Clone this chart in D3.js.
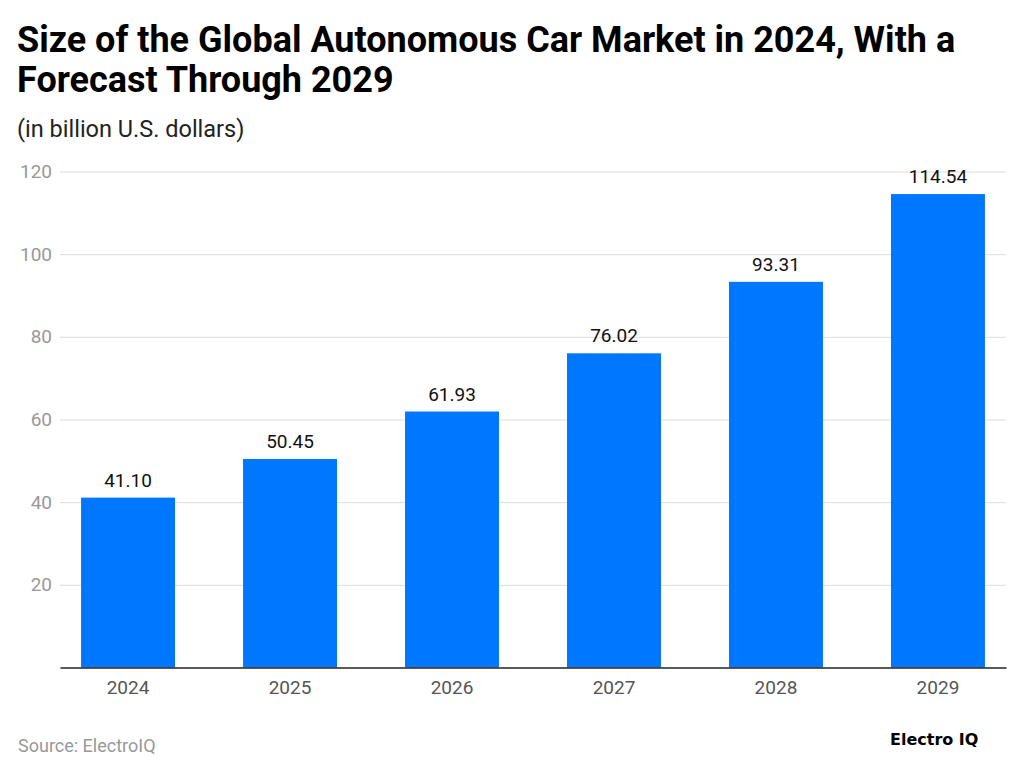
<!DOCTYPE html>
<html><head><meta charset="utf-8">
<script src="https://cdn.jsdelivr.net/npm/d3@7"></script>
<style>body{margin:0;background:#fff}svg{display:block;font-family:Roboto,sans-serif}</style>
</head><body><svg id="c" width="1024" height="775"></svg>
<script>
const categories = ["2024","2025","2026","2027","2028","2029"];
const values = [41.10, 50.45, 61.93, 76.02, 93.31, 114.54];
const yTicks = [20, 40, 60, 80, 100, 120];

(function(){
const svg = d3.select("#c");
const mLeft = 60, mRight = 1006, mTop = 171.5, mBottom = 667.5;

svg.append("text").attr("x",17).attr("y",52).attr("font-size",36).attr("font-weight",700).attr("fill","#000")
  .text("Size of the Global Autonomous Car Market in 2024, With a");
svg.append("text").attr("x",17).attr("y",92).attr("font-size",36).attr("font-weight",700).attr("fill","#000")
  .text("Forecast Through 2029");
svg.append("text").attr("x",17).attr("y",137).attr("font-size",23.5).attr("fill","#222")
  .text("(in billion U.S. dollars)");

const x = d3.scaleBand().domain(categories).range([mLeft,mRight]).paddingInner(0.42).paddingOuter(0.13);
const y = d3.scaleLinear().domain([0,120]).range([mBottom,mTop]);

const gy = svg.append("g").attr("transform",`translate(${mLeft},0)`)
  .call(d3.axisLeft(y).tickValues(yTicks).tickSize(-(mRight-mLeft)).tickPadding(8).tickFormat(d3.format("d")));
gy.select(".domain").remove();
gy.selectAll(".tick line").attr("stroke","#dcdcdc").attr("stroke-width",1);
gy.selectAll(".tick text").attr("fill","#999").attr("font-size",19).attr("font-family","Roboto");

svg.append("g").selectAll("rect").data(values).join("rect")
  .attr("x",(d,i)=>x(categories[i])).attr("width",x.bandwidth())
  .attr("y",d=>y(d)).attr("height",d=>y(0)-y(d)).attr("fill","#0077ff");

svg.append("g").selectAll("text").data(values).join("text")
  .attr("x",(d,i)=>x(categories[i])+x.bandwidth()/2).attr("y",d=>y(d)-11)
  .attr("text-anchor","middle").attr("font-size",19).attr("fill","#111")
  .text(d=>d.toFixed(2));

const gx = svg.append("g").attr("transform",`translate(0,${mBottom})`)
  .call(d3.axisBottom(x).tickSize(0).tickPadding(13));
gx.select(".domain").attr("stroke","#222").attr("stroke-width",1.5);
gx.selectAll(".tick text").attr("fill","#555").attr("font-size",19).attr("font-family","Roboto");

svg.append("text").attr("x",18).attr("y",752).attr("font-size",18).attr("fill","#999").text("Source: ElectroIQ");
svg.append("text").attr("x",890).attr("y",745).attr("font-size",16).attr("font-weight",700).attr("fill","#000")
  .attr("font-family","'DejaVu Sans',sans-serif").text("Electro IQ");
})();
</script></body></html>
